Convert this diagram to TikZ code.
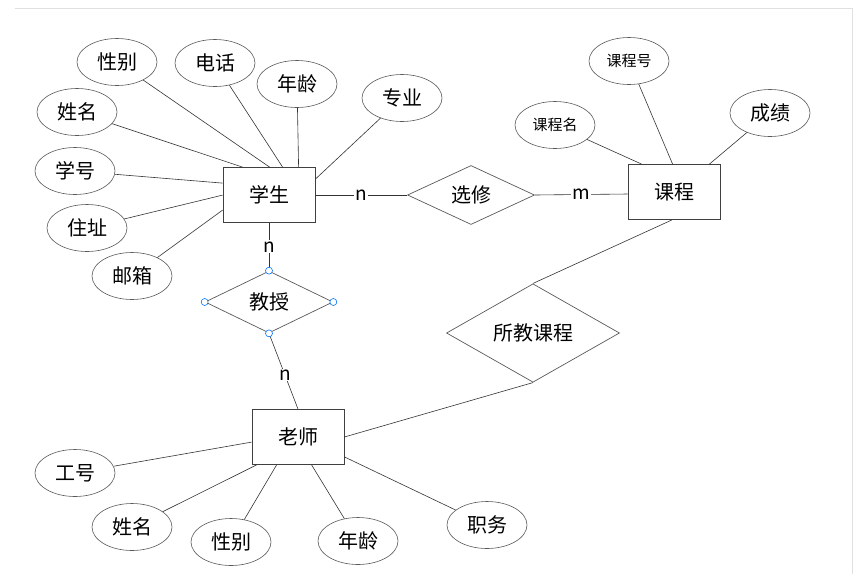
\documentclass[tikz,border=0pt]{standalone}
\usepackage{fontspec}
\setmainfont{Noto Sans CJK SC}
\usetikzlibrary{shapes.geometric,calc}
\begin{document}
\begin{tikzpicture}[x=1pt,y=-1pt,
  every node/.style={font=\fontsize{20}{22}\selectfont, inner sep=0pt},
  ent/.style={draw=black!75, minimum width=92pt, minimum height=55pt, line width=0.8pt},
  attr/.style={draw=black!65, ellipse, minimum width=80pt, minimum height=47pt, line width=0.6pt},
  sattr/.style={attr, font=\fontsize{15}{17}\selectfont},
  rel/.style={draw=black!65, diamond, line width=0.7pt},
  ln/.style={draw=black!80, line width=0.6pt},
  card/.style={fill=white, inner sep=1pt, font=\fontsize{19}{20}\selectfont},
  handle/.style={draw=blue!55!cyan, fill=white, line width=0.6pt}]
\useasboundingbox (0,0) rectangle (865,574);
\draw[black!12, line width=0.7pt] (15,8) -- (852,8) -- (852,574);
% entities
\node[ent] (s) at (269,195) {学生};
\node[ent] (c) at (674,192) {课程};
\node[ent] (t) at (298,437) {老师};
% relationships
\node[rel, minimum width=127pt, minimum height=59pt] (xx) at (471,195) {选修};
\node[rel, minimum width=128pt, minimum height=62pt] (jj) at (269,302) {教授};
\node[rel, minimum width=173pt, minimum height=84pt] (sj) at (533,333) {所教课程};
% student attributes
\node[attr] (a1) at (117,62) {性别};
\node[attr] (a2) at (215,63) {电话};
\node[attr] (a3) at (297,84) {年龄};
\node[attr] (a4) at (402,98) {专业};
\node[attr] (a5) at (77,112) {姓名};
\node[attr] (a6) at (75,171) {学号};
\node[attr] (a7) at (87,228) {住址};
\node[attr] (a8) at (132,276) {邮箱};
% course attributes
\node[sattr] (b1) at (629,61) {课程号};
\node[sattr] (b2) at (555,125) {课程名};
\node[attr] (b3) at (770,113) {成绩};
% teacher attributes
\node[attr] (t1) at (75,473) {工号};
\node[attr] (t2) at (132,527) {姓名};
\node[attr] (t3) at (231,542) {性别};
\node[attr] (t4) at (358,541) {年龄};
\node[attr] (t5) at (487,525) {职务};
% lines student
\draw[ln] (a5) -- ($(s.north west)+(20,0)$);
\draw[ln] (a1) -- ($(s.north west)+(47,0)$);
\draw[ln] (a2) -- ($(s.north west)+(60,0)$);
\draw[ln] (a3) -- ($(s.north west)+(76,0)$);
\draw[ln] (a4) -- ($(s.north east)+(0,12)$);
\draw[ln] (a6) -- ($(s.north west)+(0,16)$);
\draw[ln] (a7) -- ($(s.north west)+(0,28)$);
\draw[ln] (a8) -- ($(s.north west)+(0,43)$);
% course
\draw[ln] (b2) -- ($(c.north west)+(14,0)$);
\draw[ln] (b1) -- ($(c.north west)+(45,0)$);
\draw[ln] (b3) -- ($(c.north east)+(-11,0)$);
% teacher
\draw[ln] (t1) -- ($(t.north west)+(0,33)$);
\draw[ln] (t2) -- ($(t.south west)+(5,0)$);
\draw[ln] (t3) -- ($(t.south west)+(25,0)$);
\draw[ln] (t4) -- ($(t.south west)+(60,0)$);
\draw[ln] (t5) -- ($(t.south east)+(0,-8)$);
% relationships
\draw[ln] (s.east) -- node[card]{n} (xx.west);
\draw[ln] (xx.east) -- node[card]{m} ($(c.west)+(0,2)$);
\draw[ln] (s.south) -- node[card]{n} (jj.north);
\draw[ln] (jj.south) -- node[card, pos=0.55]{n} (t.north);
\draw[ln] ($(c.south)+(-2,0)$) -- (sj.north);
\draw[ln] (sj.south) -- (t.east);
% selection handles
\foreach \a in {north,south,east,west} \draw[handle] (jj.\a) circle (3.5pt);
\end{tikzpicture}
\end{document}
